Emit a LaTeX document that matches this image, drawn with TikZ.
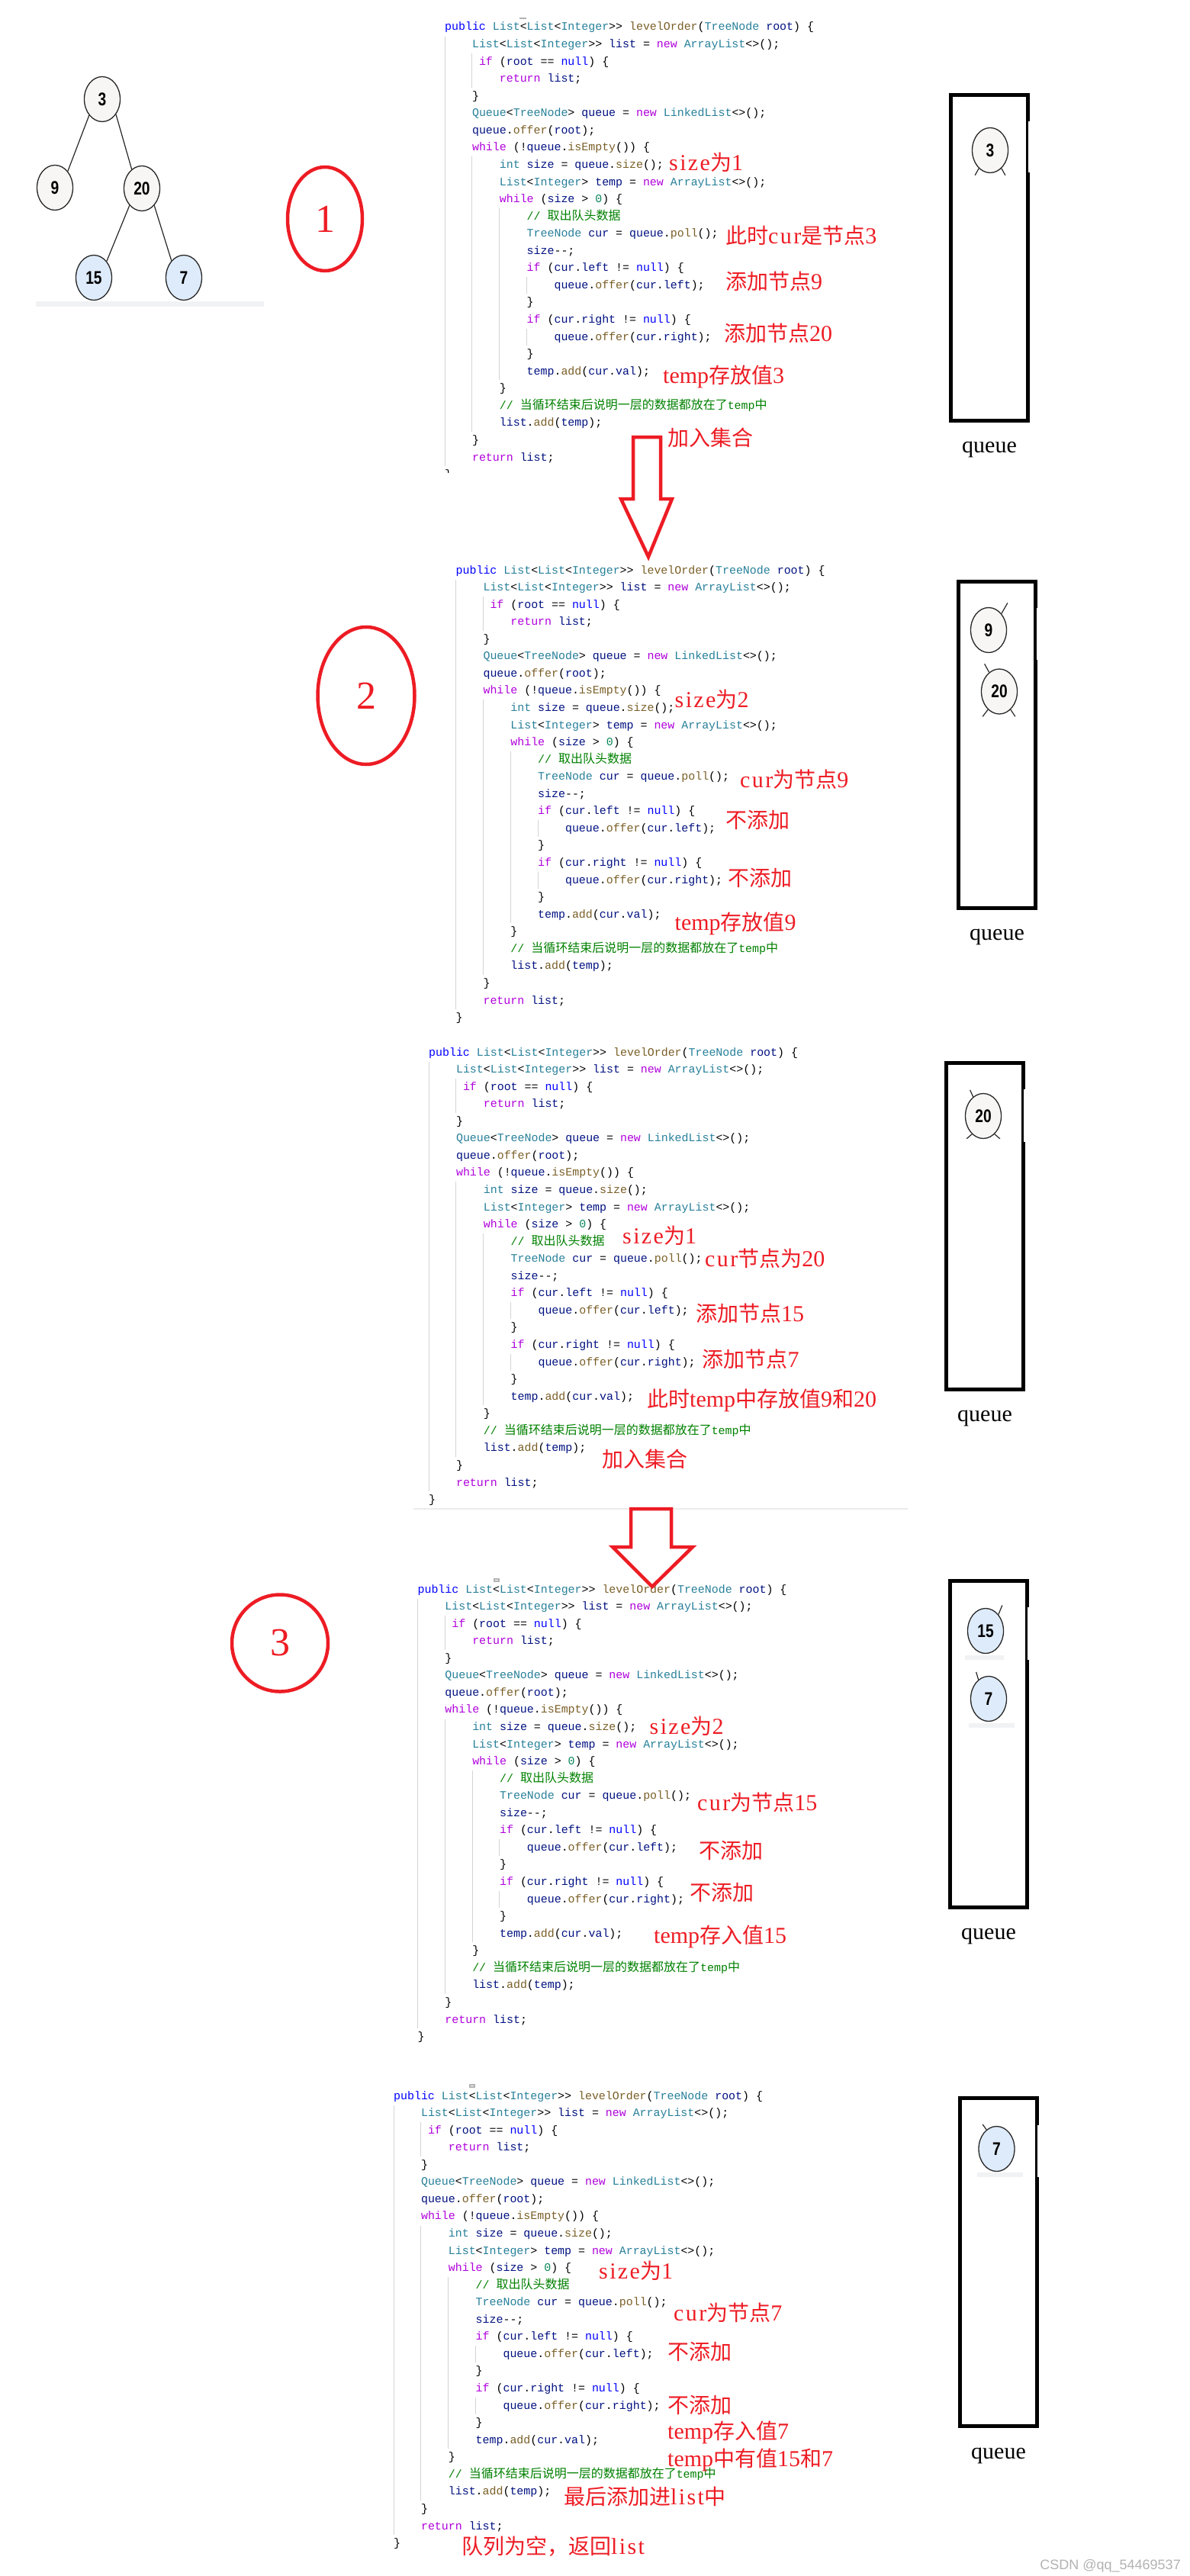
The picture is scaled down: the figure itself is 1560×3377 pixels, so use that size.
\documentclass[tikz,border=0pt]{standalone}
\usepackage{fontspec}
\setmainfont{Liberation Serif}
\setsansfont{Liberation Sans}
\setmonofont{Liberation Mono}
\newfontfamily\zhfont{Noto Sans CJK SC}
\newfontfamily\spacedfont[LetterSpace=8]{Liberation Serif}
\usepackage{tikz}
\usetikzlibrary{positioning,shapes.geometric}
\usepackage{xcolor}

\definecolor{inkred}{HTML}{ED1C24}
\definecolor{cblue}{HTML}{0000FF}
\definecolor{cteal}{HTML}{267F99}
\definecolor{cpurple}{HTML}{AF00DB}
\definecolor{cgold}{HTML}{795E26}
\definecolor{cnavy}{HTML}{001080}
\definecolor{cgreen}{HTML}{008000}
\definecolor{cnum}{HTML}{098658}
\definecolor{guidegray}{HTML}{D4D4D4}
\definecolor{bargray}{HTML}{F1F2F4}
\definecolor{leafblue}{HTML}{DEEBFA}
\definecolor{nodewhite}{HTML}{F8F6F4}

\newcommand{\zh}[1]{{\zhfont\fontsize{28}{28}\selectfont #1}}
\newcommand{\sw}[1]{{\spacedfont #1}}
\newcommand{\nd}[1]{\scalebox{.8}[1]{#1}}
\newcommand{\ke}[1]{\textcolor{cpurple}{#1}}
\newcommand{\ty}[1]{\textcolor{cteal}{#1}}
\newcommand{\fn}[1]{\textcolor{cgold}{#1}}
\newcommand{\va}[1]{\textcolor{cnavy}{#1}}
\newcommand{\cm}[1]{\textcolor{cgreen}{#1}}
\newcommand{\cmzh}[1]{{\zhfont\fontsize{16}{16}\selectfont #1}}

\tikzset{
  codeline/.style={anchor=west, inner sep=0pt, text height=12pt, text depth=4pt, font=\ttfamily\fontsize{14.93}{18}\selectfont},
  guide/.style={draw=guidegray, line width=1pt},
  anno/.style={anchor=west, inner sep=0pt, text=inkred, font=\fontsize{30}{30}\selectfont},
  roundel/.style={ellipse, draw=inkred, line width=4.5pt, inner sep=0pt, text=inkred, font=\fontsize{52}{52}\selectfont},
  treenode/.style={ellipse, draw=black!85, line width=1.3pt, fill=nodewhite, minimum width=47pt, minimum height=59pt, inner sep=0pt, font=\sffamily\bfseries\fontsize{24}{24}\selectfont},
  leafnode/.style={treenode, fill=leafblue},
  edge/.style={draw=black!85, line width=1.2pt},
  queuebox/.style={draw=black, line width=5pt, inner sep=0pt},
  queuelabel/.style={font=\fontsize{30}{30}\selectfont},
  bigarrow/.style={draw=inkred, line width=4.5pt, line join=miter},
}

\newcommand{\codeblock}[3]{
  \foreach \lx/\from/\to in {0/2/26, 4/3/4, 4/9/24, 8/12/21, 12/16/16, 12/19/19} {
    \draw[guide] ({#2+\lx*8.96},{#3+(\from-1)*22.56-11}) -- ({#2+\lx*8.96},{#3+(\to-1)*22.56+11});
  }
  \foreach \n/\ind/\txt in {
    1/0/{\textcolor{cblue}{public} \ty{List}<\ty{List}<\ty{Integer}>> \fn{levelOrder}(\ty{TreeNode} \va{root}) \{},
    2/4/{\ty{List}<\ty{List}<\ty{Integer}>> \va{list} = \ke{new} \ty{ArrayList}<>();},
    3/5/{\ke{if} (\va{root} == \textcolor{cblue}{null}) \{},
    4/8/{\ke{return} \va{list};},
    5/4/{\}},
    6/4/{\ty{Queue}<\ty{TreeNode}> \va{queue} = \ke{new} \ty{LinkedList}<>();},
    7/4/{\va{queue}.\fn{offer}(\va{root});},
    8/4/{\ke{while} (!\va{queue}.\fn{isEmpty}()) \{},
    9/8/{\ty{int} \va{size} = \va{queue}.\fn{size}();},
    10/8/{\ty{List}<\ty{Integer}> \va{temp} = \ke{new} \ty{ArrayList}<>();},
    11/8/{\ke{while} (\va{size} > \textcolor{cnum}{0}) \{},
    12/12/{\cm{// \cmzh{取出队头数据}}},
    13/12/{\ty{TreeNode} \va{cur} = \va{queue}.\fn{poll}();},
    14/12/{\va{size}-{}-;},
    15/12/{\ke{if} (\va{cur}.\va{left} != \textcolor{cblue}{null}) \{},
    16/16/{\va{queue}.\fn{offer}(\va{cur}.\va{left});},
    17/12/{\}},
    18/12/{\ke{if} (\va{cur}.\va{right} != \textcolor{cblue}{null}) \{},
    19/16/{\va{queue}.\fn{offer}(\va{cur}.\va{right});},
    20/12/{\}},
    21/12/{\va{temp}.\fn{add}(\va{cur}.\va{val});},
    22/8/{\}},
    23/8/{\cm{// \cmzh{当循环结束后说明一层的数据都放在了}temp\cmzh{中}}},
    24/8/{\va{list}.\fn{add}(\va{temp});},
    25/4/{\}},
    26/4/{\ke{return} \va{list};},
    27/0/{\}}%
  } {
    \node (#1l\n) [codeline] at ({#2+\ind*8.96},{#3+(\n-1)*22.56}) {\txt};
  }
}

\begin{document}
\begin{tikzpicture}[x=1pt, y=-1pt]
\useasboundingbox (0,0) rectangle (1560,3377);

% the tree
\fill[bargray] (47,395) rectangle (346,402);
\node (n3) [treenode] at (134,130) {\nd{3}};
\node (n9) [treenode] at (72,246) {\nd{9}};
\node (n20) [treenode] at (186,247) {\nd{20}};
\node (n15) [leafnode] at (123,364) {\nd{15}};
\node (n7) [leafnode] at (241,364) {\nd{7}};
\draw[edge] (n3.231) -- (n9.52);
\draw[edge] (n3.312) -- (n20.118);
\draw[edge] (n20.234) -- (n15.52);
\draw[edge] (n20.306) -- (n7.126);

% step marks
\node (step1) [roundel, minimum width=98pt, minimum height=136pt] at (426,287) {1};
\node (step2) [roundel, minimum width=127pt, minimum height=180pt] at (480,912) {2};
\node (step3) [roundel, minimum width=126pt, minimum height=127pt] at (367,2154) {3};

% code
\begin{scope}
\clip (0,0) rectangle (1560,619);
\codeblock{a}{583}{36}
\end{scope}
\codeblock{b}{597.5}{748}
\codeblock{c}{562}{1380}
\codeblock{d}{547.4}{2084}
\codeblock{e}{516}{2748}
\draw[draw=black!8, line width=2pt] (542,1978) -- (1190,1978);
\draw[draw=black!30, line width=1.5pt] (681,24) -- (690,24);
\draw[draw=black!30, line width=1.5pt] (648,2070) rectangle (654,2073);
\draw[draw=black!30, line width=1.5pt] (616,2733) rectangle (622,2736);

% first pass
\node (a1) [anno] at (877,213) {\sw{size}\zh{为}1};
\node (a2) [anno] at (951,309) {\zh{此时}\sw{cur}\zh{是节点}3};
\node (a3) [anno] at (951,369) {\zh{添加节点}9};
\node (a4) [anno] at (949,437) {\zh{添加节点}20};
\node (a5) [anno] at (869,494) {temp\zh{存放值}3};
\node (a6) [anno] at (875,574) {\zh{加入集合}};

\node (b1) [anno] at (884.5,917) {\sw{size}\zh{为}2};
\node (b2) [anno] at (970,1022) {\sw{cur}\zh{为节点}9};
\node (b3) [anno] at (951,1075) {\zh{不添加}};
\node (b4) [anno] at (954,1151) {\zh{不添加}};
\node (b5) [anno] at (884.5,1211) {temp\zh{存放值}9};

\node (c1) [anno] at (816,1620) {\sw{size}\zh{为}1};
\node (c2) [anno] at (924,1650) {\sw{cur}\zh{节点为}20};
\node (c3) [anno] at (912,1722) {\zh{添加节点}15};
\node (c4) [anno] at (920.5,1782) {\zh{添加节点}7};
\node (c5) [anno] at (848,1836) {\zh{此时}temp\zh{中存放值}9\zh{和}20};
\node (c6) [anno] at (789,1913) {\zh{加入集合}};

\node (d1) [anno] at (851.5,2263) {\sw{size}\zh{为}2};
\node (d2) [anno] at (914,2363) {\sw{cur}\zh{为节点}15};
\node (d3) [anno] at (916,2426) {\zh{不添加}};
\node (d4) [anno] at (904,2481) {\zh{不添加}};
\node (d5) [anno] at (857,2539) {temp\zh{存入值}15};

\node (e1) [anno] at (785,2977) {\sw{size}\zh{为}1};
\node (e2) [anno] at (883,3032) {\sw{cur}\zh{为节点}7};
\node (e3) [anno] at (875,3083) {\zh{不添加}};
\node (e4) [anno] at (875,3153) {\zh{不添加}};
\node (e5) [anno] at (875,3189) {temp\zh{存入值}7};
\node (e6) [anno] at (875,3225) {temp\zh{中有值}15\zh{和}7};
\node (e7) [anno] at (739,3273) {\zh{最后添加进}\sw{list}\zh{中}};
\node (e8) [anno] at (605,3338) {\zh{队列为空，返回}\sw{list}};

% arrows
\draw[bigarrow] (830,573) -- (866,573) -- (866,654) -- (881,654) -- (850,730) -- (814,654) -- (830,654) -- cycle;
\draw[bigarrow] (827,1978) -- (880,1978) -- (880,2028) -- (908,2028) -- (855,2080) -- (803,2028) -- (827,2028) -- cycle;

% queues
\node (box1) [queuebox, minimum width=101pt, minimum height=427pt] at (1297,338) {};
\node (lab1) [queuelabel, below=22pt of box1] {queue};
\node (box2) [queuebox, minimum width=101.5pt, minimum height=428pt] at (1307,976.5) {};
\node (lab2) [queuelabel, below=22pt of box2] {queue};
\node (box3) [queuebox, minimum width=100.5pt, minimum height=428pt] at (1291,1607.5) {};
\node (lab3) [queuelabel, below=22pt of box3] {queue};
\node (box4) [queuebox, minimum width=100.5pt, minimum height=428pt] at (1296,2286.5) {};
\node (lab4) [queuelabel, below=22pt of box4] {queue};
\node (box5) [queuebox, minimum width=100.5pt, minimum height=430pt] at (1309,2965.5) {};
\node (lab5) [queuelabel, below=22pt of box5] {queue};

% pasted parts that cut into the walls
\fill[white] (1348,159) rectangle (1351,226);
\fill[white] (1358.5,797) rectangle (1362,865);
\fill[white] (1342,1428) rectangle (1345,1497);
\fill[white] (1347,2107) rectangle (1350,2176);
\fill[white] (1360,2786) rectangle (1363,2854);

\fill[bargray] (1265,2170) rectangle (1316,2176);
\fill[bargray] (1270,2259) rectangle (1330,2265);
\fill[bargray] (1281,2848) rectangle (1341,2854);

\node (q1) [treenode] at (1298,197) {\nd{3}};
\draw[edge] (q1.238) -- ++(-5,9);
\draw[edge] (q1.302) -- ++(5,9);

\node (q2) [treenode] at (1296,826) {\nd{9}};
\draw[edge] (q2.52) -- ++(8,-14);
\node (q3) [treenode] at (1310,906.5) {\nd{20}};
\draw[edge] (q3.118) -- ++(-6,-11);
\draw[edge] (q3.238) -- ++(-7,9);
\draw[edge] (q3.302) -- ++(6,9);

\node (q4) [treenode] at (1289,1463) {\nd{20}};
\draw[edge] (q4.118) -- ++(-4,-9);
\draw[edge] (q4.238) -- ++(-7,6);
\draw[edge] (q4.302) -- ++(7,6);

\node (q5) [leafnode] at (1292,2138) {\nd{15}};
\draw[edge] (q5.52) -- ++(5,-12);
\node (q6) [leafnode] at (1296,2227) {\nd{7}};
\draw[edge] (q6.118) -- ++(-3,-10);

\node (q7) [leafnode] at (1306.5,2817) {\nd{7}};
\draw[edge] (q7.118) -- ++(-5,-7);

\node (mark) [anchor=east, inner sep=0pt, text=black!30, font=\sffamily\fontsize{18}{18}\selectfont] at (1548,3364) {CSDN @qq\_54469537};
\end{tikzpicture}
\end{document}
